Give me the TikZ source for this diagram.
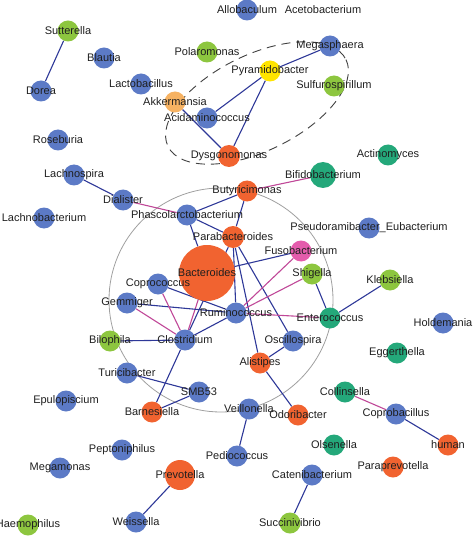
\documentclass[tikz,border=0pt]{standalone}
\usepackage{fontspec}
\setmainfont{Liberation Sans}
\usetikzlibrary{backgrounds}
\definecolor{nodeblue}{RGB}{92,122,198}
\definecolor{nodeorange}{RGB}{241,99,48}
\definecolor{nodegreen}{RGB}{141,198,63}
\definecolor{nodeteal}{RGB}{36,168,122}
\definecolor{nodeyellow}{RGB}{255,228,0}
\definecolor{nodepeach}{RGB}{246,178,98}
\definecolor{nodepink}{RGB}{228,92,172}
\definecolor{linkblue}{RGB}{46,56,152}
\definecolor{linkpink}{RGB}{192,72,152}

\begin{document}
\begin{tikzpicture}[x=1pt,y=-1pt,
  taxon/.style={circle,inner sep=0pt,minimum size=21pt,draw=none},
  bl/.style={taxon,fill=nodeblue},
  orng/.style={taxon,fill=nodeorange},
  grn/.style={taxon,fill=nodegreen},
  tl/.style={taxon,fill=nodeteal},
  bluelink/.style={draw=linkblue,line width=1.1pt},
  pinklink/.style={draw=linkpink,line width=1.1pt},
  taxname/.style={font=\fontsize{11}{13}\selectfont,text=black!88,inner sep=0pt}]
\useasboundingbox (0,0) rectangle (474,537);

% blue taxa
\node[bl] (allobaculum) at (247,10) {};
\node[bl] (blautia) at (104,58) {};
\node[bl] (dorea) at (41,91) {};
\node[bl] (megasphaera) at (330,46) {};
\node[bl] (lactobacillus) at (141,84) {};
\node[bl] (acidaminococcus) at (207,118) {};
\node[bl] (roseburia) at (58,140) {};
\node[bl] (lachnospira) at (74,175) {};
\node[bl] (dialister) at (123,200) {};
\node[bl] (lachnobacterium) at (44,218) {};
\node[bl] (phascolarcto) at (187,215) {};
\node[bl] (pseudoramibacter) at (369,228) {};
\node[bl] (coprococcus) at (158,284) {};
\node[bl] (gemmiger) at (127,303) {};
\node[bl] (ruminococcus) at (236,313) {};
\node[bl] (holdemania) at (443,323) {};
\node[bl] (clostridium) at (185,340) {};
\node[bl] (oscillospira) at (293,341) {};
\node[bl] (turicibacter) at (127,373) {};
\node[bl] (smb53) at (199,392) {};
\node[bl] (epulopiscium) at (66,401) {};
\node[bl] (veillonella) at (249,409) {};
\node[bl] (coprobacillus) at (396,414) {};
\node[bl] (pediococcus) at (237,456) {};
\node[bl] (peptoniphilus) at (122,450) {};
\node[bl] (megamonas) at (60,468) {};
\node[bl] (catenibacterium) at (312,475) {};
\node[bl] (weissella) at (136,522) {};
% orange taxa
\node[orng,minimum size=22pt] (dysgonomonas) at (229,156) {};
\node[orng] (butyricimonas) at (247,191) {};
\node[orng,minimum size=22pt] (parabacteroides) at (233,237) {};
\node[orng,minimum size=56pt] (bacteroides) at (207,273) {};
\node[orng] (alistipes) at (260,363) {};
\node[orng] (barnesiella) at (152,412) {};
\node[orng] (odoribacter) at (298,415) {};
\node[orng] (human) at (448,445) {};
\node[orng] (paraprevotella) at (393,467) {};
\node[orng,minimum size=30pt] (prevotella) at (180,475) {};
% green taxa
\node[grn] (sutterella) at (68,31) {};
\node[grn] (polaromonas) at (207,52) {};
\node[grn] (sulfurospirillum) at (334,86) {};
\node[grn] (shigella) at (312,274) {};
\node[grn] (klebsiella) at (390,280) {};
\node[grn] (bilophila) at (110,341) {};
\node[grn] (haemophilus) at (28,525) {};
\node[grn] (succinivibrio) at (290,523) {};
% teal taxa
\node[tl,minimum size=26pt] (bifidobacterium) at (323,175) {};
\node[tl] (actinomyces) at (388,155) {};
\node[tl] (enterococcus) at (330,318) {};
\node[tl] (eggerthella) at (397,353) {};
\node[tl] (collinsella) at (345,392) {};
\node[tl] (olsenella) at (334,445) {};
% single ones
\node[taxon,fill=nodeyellow] (pyramidobacter) at (270,71) {};
\node[taxon,fill=nodepeach] (akkermansia) at (175,102) {};
\node[taxon,fill=nodepink] (fusobacterium) at (301,251) {};
\node[taxname] (acetobacterium) at (323,10) {Acetobacterium};

\begin{pgfonlayer}{background}
\draw[gray!75,line width=0.8pt] (221,300) circle [radius=112];
\draw[black!75,line width=0.9pt,dash pattern=on 9pt off 6pt,shift={(257,103)},rotate=26] (0,0) ellipse [x radius=99,y radius=48];
\draw[bluelink] (sutterella) -- (dorea);
\draw[bluelink] (pyramidobacter) -- (megasphaera);
\draw[bluelink] (pyramidobacter) -- (acidaminococcus);
\draw[bluelink] (pyramidobacter) -- (dysgonomonas);
\draw[bluelink] (akkermansia) -- (dysgonomonas);
\draw[bluelink] (lachnospira) -- (dialister);
\draw[pinklink] (dialister) -- (phascolarcto);
\draw[pinklink] (butyricimonas) -- (bifidobacterium);
\draw[bluelink] (phascolarcto) -- (butyricimonas);
\draw[bluelink] (phascolarcto) -- (parabacteroides);
\draw[bluelink] (phascolarcto) -- (bacteroides);
\draw[bluelink] (butyricimonas) -- (parabacteroides);
\draw[bluelink] (parabacteroides) -- (ruminococcus);
\draw[bluelink] (parabacteroides) -- (alistipes);
\draw[bluelink] (parabacteroides) -- (oscillospira);
\draw[bluelink] (parabacteroides) -- (clostridium);
\draw[bluelink] (bacteroides) -- (fusobacterium);
\draw[pinklink] (clostridium) -- (bacteroides);
\draw[bluelink] (coprococcus) -- (ruminococcus);
\draw[bluelink] (gemmiger) -- (ruminococcus);
\draw[pinklink] (gemmiger) -- (clostridium);
\draw[pinklink] (coprococcus) -- (clostridium);
\draw[bluelink] (bilophila) -- (clostridium);
\draw[bluelink] (clostridium) -- (ruminococcus);
\draw[bluelink] (clostridium) -- (barnesiella);
\draw[bluelink] (turicibacter) -- (smb53);
\draw[bluelink] (barnesiella) -- (smb53);
\draw[pinklink] (ruminococcus) -- (fusobacterium);
\draw[pinklink] (ruminococcus) -- (shigella);
\draw[pinklink] (ruminococcus) -- (enterococcus);
\draw[bluelink] (shigella) -- (enterococcus);
\draw[bluelink] (enterococcus) -- (klebsiella);
\draw[bluelink] (oscillospira) -- (alistipes);
\draw[bluelink] (alistipes) -- (odoribacter);
\draw[bluelink] (veillonella) -- (pediococcus);
\draw[pinklink] (collinsella) -- (coprobacillus);
\draw[bluelink] (coprobacillus) -- (human);
\draw[bluelink] (catenibacterium) -- (succinivibrio);
\draw[bluelink] (prevotella) -- (weissella);
\end{pgfonlayer}

% names on top of every circle
\foreach \n/\t in {allobaculum/Allobaculum,blautia/Blautia,dorea/Dorea,megasphaera/Megasphaera,
  lactobacillus/Lactobacillus,acidaminococcus/Acidaminococcus,roseburia/Roseburia,lachnospira/Lachnospira,
  dialister/Dialister,lachnobacterium/Lachnobacterium,phascolarcto/Phascolarctobacterium,
  pseudoramibacter/Pseudoramibacter\_Eubacterium,coprococcus/Coprococcus,gemmiger/Gemmiger,
  ruminococcus/Ruminococcus,holdemania/Holdemania,clostridium/Clostridium,oscillospira/Oscillospira,
  turicibacter/Turicibacter,smb53/SMB53,epulopiscium/Epulopiscium,veillonella/Veillonella,
  coprobacillus/Coprobacillus,pediococcus/Pediococcus,peptoniphilus/Peptoniphilus,megamonas/Megamonas,
  catenibacterium/Catenibacterium,weissella/Weissella,dysgonomonas/Dysgonomonas,butyricimonas/Butyricimonas,
  parabacteroides/Parabacteroides,bacteroides/Bacteroides,alistipes/Alistipes,barnesiella/Barnesiella,
  odoribacter/Odoribacter,human/human,paraprevotella/Paraprevotella,prevotella/Prevotella,
  sutterella/Sutterella,polaromonas/Polaromonas,sulfurospirillum/Sulfurospirillum,shigella/Shigella,
  klebsiella/Klebsiella,bilophila/Bilophila,haemophilus/Haemophilus,succinivibrio/Succinivibrio,
  bifidobacterium/Bifidobacterium,actinomyces/Actinomyces,enterococcus/Enterococcus,eggerthella/Eggerthella,
  collinsella/Collinsella,olsenella/Olsenella,pyramidobacter/Pyramidobacter,akkermansia/Akkermansia,
  fusobacterium/Fusobacterium}
  \node[taxname] at (\n) {\t};
\end{tikzpicture}
\end{document}
